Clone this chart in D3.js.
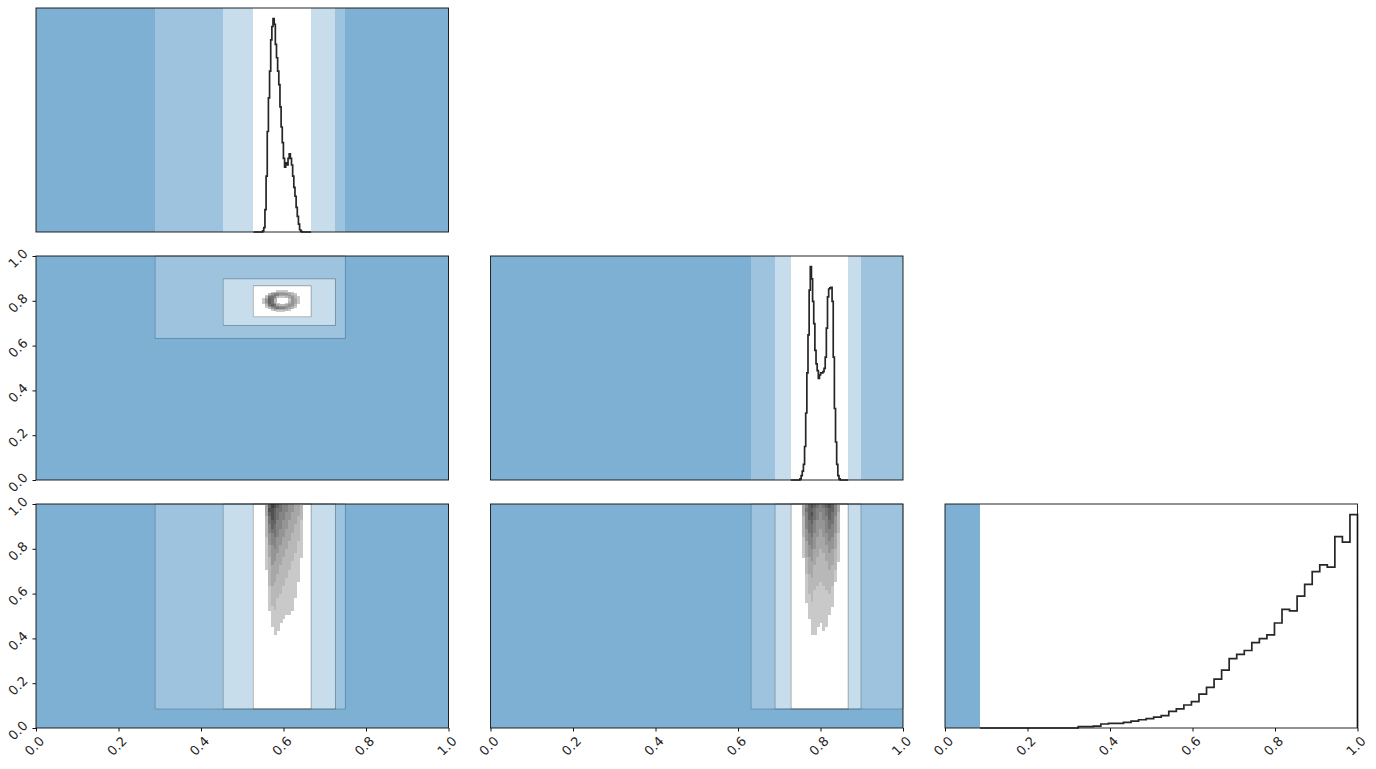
<!DOCTYPE html>
<html>
<head>
<meta charset="utf-8">
<script src="https://cdn.jsdelivr.net/npm/d3@7"></script>
<style>
  body { margin: 0; background: #fff; }
  text { font-family: "DejaVu Sans", sans-serif; }
</style>
</head>
<body>
<div id="corner"></div>
<script>
// nested bounds per parameter, one [lo, hi] per pass (widest first)
var bounds0 = [[0.289, 0.750], [0.454, 0.726], [0.527, 0.667]];
var bounds1 = [[0.632, 1.0], [0.690, 0.898], [0.729, 0.867]];
var bounds2 = [[0.085, 1.0], [0.085, 1.0], [0.085, 1.0]];

var tickValues = [0, 0.2, 0.4, 0.6, 0.8, 1.0];

// 1D histograms, 50 bins over the given range
var hist0Range = [0.527, 0.667];
var hist0 = [0, 0, 0, 0, 0, 0, 0, 0, 0.005, 0.02, 0.1, 0.25, 0.45, 0.6, 0.72, 0.86, 0.92, 0.955, 0.93, 0.84,
             0.78, 0.72, 0.66, 0.56, 0.47, 0.4, 0.33, 0.29, 0.31, 0.3, 0.33, 0.35, 0.33, 0.3, 0.25, 0.2, 0.16, 0.11, 0.07, 0.035,
             0.01, 0.003, 0, 0, 0, 0, 0, 0, 0, 0];

var hist1Range = [0.728, 0.867];
var hist1 = [0, 0, 0, 0, 0, 0, 0, 0, 0.005, 0.02, 0.04, 0.07, 0.15, 0.3, 0.48, 0.65, 0.85, 0.955, 0.9, 0.8,
             0.7, 0.58, 0.52, 0.49, 0.455, 0.47, 0.48, 0.48, 0.485, 0.5, 0.55, 0.68, 0.82, 0.855, 0.86, 0.862, 0.8, 0.55, 0.32, 0.17,
             0.07, 0.02, 0.005, 0, 0, 0, 0, 0, 0, 0];

var hist2Range = [0.085, 1.0];
var hist2 = [0, 0, 0, 0, 0, 0, 0, 0, 0, 0, 0, 0, 0, 0.006, 0.006, 0.008, 0.018, 0.021, 0.021, 0.025,
             0.031, 0.037, 0.042, 0.049, 0.055, 0.074, 0.086, 0.103, 0.118, 0.152, 0.182, 0.219, 0.259, 0.311, 0.330, 0.347, 0.382, 0.400, 0.417, 0.470,
             0.531, 0.524, 0.590, 0.643, 0.700, 0.730, 0.720, 0.857, 0.832, 0.955];

// 2D histograms: each string is one row (top row = highest y), digit = density level
var grid10X = [0.548, 0.646], grid10Y = [0.750, 0.848];
var grid10 = [
  "00000111100000",
  "00012333221000",
  "00245544432100",
  "01456533343200",
  "02665211234210",
  "13763000024310",
  "14762000014310",
  "14762000024310",
  "13764100134310",
  "02676322344200",
  "01466544443100",
  "00245655432000",
  "00013333210000",
  "00000111000000"
];

var grid20X = [0.548, 0.653], grid20Y = [0.415, 1.0];
var grid20 = [
  "037987655443320",
  "038876655443320",
  "037876554433320",
  "026876554433220",
  "026775544333210",
  "025765544332210",
  "025665443332210",
  "024565443322210",
  "014554433322210",
  "014554433222110",
  "013454333222110",
  "013444332222110",
  "013443332221110",
  "012443322221100",
  "012433322211100",
  "012333222211100",
  "002333222111100",
  "002332222111100",
  "002332221111100",
  "002322221111000",
  "001222211111000",
  "001222211111000",
  "001222111111000",
  "001221111110000",
  "001221111110000",
  "001121111110000",
  "000111111100000",
  "000111110000000",
  "000111100000000",
  "000111000000000",
  "000011000000000",
  "000010000000000"
];

var grid21X = [0.748, 0.853], grid21Y = [0.415, 1.0];
var grid21 = [
  "035787656787530",
  "036776555677530",
  "035786545676520",
  "025776545576420",
  "025675444566420",
  "025665444565420",
  "024665434555420",
  "024564434455310",
  "014554333454310",
  "013554333444310",
  "013454333344310",
  "013443323343210",
  "013443322333210",
  "002343222333210",
  "002333222233200",
  "002332222232200",
  "002332222222100",
  "001232222222100",
  "001222222222100",
  "001222212222000",
  "001222111221000",
  "001221111121000",
  "001121111111000",
  "001121111111000",
  "000111111111000",
  "000111111110000",
  "000111111110000",
  "000111111100000",
  "000011111100000",
  "000011101100000",
  "000011001000000",
  "000011000000000"
];

var bounds = [bounds0, bounds1, bounds2];
var hists = [[hist0Range, hist0], [hist1Range, hist1], [hist2Range, hist2]];

// layout
var W = 1376, H = 769;
var colX = [36, 490.5, 945], rowY = [8, 256, 504];
var pw = 412.5, ph = 224;
var shade = "#1f77b4", shadeAlpha = 0.25;
var labelSize = "13px";

var gray = d3.scaleLinear().domain([1, 9]).range(["#c9c9c9", "#3f3f3f"]);

var svg = d3.select("#corner").append("svg")
    .attr("width", W)
    .attr("height", H)
    .style("display", "block");

function panel(row, col) {
    var g = svg.append("g")
        .attr("transform", "translate(" + colX[col] + "," + rowY[row] + ")");
    var x = d3.scaleLinear().domain([0, 1]).range([0, pw]);
    var y = d3.scaleLinear().domain([0, 1]).range([ph, 0]);
    return {g: g, x: x, y: y};
}

function rectPath(x, y, x0, x1, y0, y1) {
    return "M" + x(x0) + "," + y(y0) + "H" + x(x1) + "V" + y(y1) + "H" + x(x0) + "Z";
}

function drawGrid(p, grid, gx, gy) {
    var nr = grid.length, nc = grid[0].length;
    var dx = (gx[1] - gx[0]) / nc, dy = (gy[1] - gy[0]) / nr;
    var cells = [];
    grid.forEach(function(row, r) {
        row.split("").map(Number).forEach(function(v, c) {
            if (v > 0) cells.push({c: c, r: r, v: v});
        });
    });
    p.g.append("g").selectAll("rect")
        .data(cells)
        .enter().append("rect")
        .attr("x", d => p.x(gx[0] + d.c * dx))
        .attr("y", d => p.y(gy[1] - d.r * dy))
        .attr("width", d => p.x(gx[0] + (d.c + 1) * dx) - p.x(gx[0] + d.c * dx) + 0.3)
        .attr("height", d => p.y(gy[1] - (d.r + 1) * dy) - p.y(gy[1] - d.r * dy) + 0.3)
        .attr("fill", d => gray(d.v))
        .attr("shape-rendering", "crispEdges");
}

function frame(p) {
    p.g.append("rect")
        .attr("width", pw)
        .attr("height", ph)
        .attr("fill", "none")
        .attr("stroke", "#111")
        .attr("stroke-width", 0.9);
}

function xAxis(p) {
    var ax = p.g.append("g")
        .attr("transform", "translate(0," + ph + ")")
        .call(d3.axisBottom(p.x).tickValues(tickValues).tickSize(3.5).tickFormat(d3.format(".1f")));
    ax.select(".domain").remove();
    ax.selectAll("line").attr("stroke", "#111");
    ax.selectAll("text")
        .attr("y", null).attr("dy", null)
        .attr("transform", "translate(-2,18) rotate(-45)")
        .attr("text-anchor", "middle")
        .attr("dominant-baseline", "central")
        .attr("font-size", null)
        .style("font-size", labelSize)
        .attr("fill", "#222");
}

function yAxis(p) {
    var ax = p.g.append("g")
        .call(d3.axisLeft(p.y).tickValues(tickValues).tickSize(3.5).tickFormat(d3.format(".1f")));
    ax.select(".domain").remove();
    ax.selectAll("line").attr("stroke", "#111");
    ax.selectAll("text")
        .attr("x", null).attr("dy", null)
        .attr("transform", "translate(-18,2) rotate(-45)")
        .attr("text-anchor", "middle")
        .attr("dominant-baseline", "central")
        .style("font-size", labelSize)
        .attr("fill", "#222");
}

// diagonal: shaded outside each bound + step histogram
[0, 1, 2].forEach(function(i) {
    var p = panel(i, i);
    bounds[i].forEach(function(b) {
        [[0, b[0]], [b[1], 1]].forEach(function(s) {
            if (s[1] - s[0] <= 0) return;
            p.g.append("rect")
                .attr("x", p.x(s[0]))
                .attr("y", 0)
                .attr("width", p.x(s[1]) - p.x(s[0]))
                .attr("height", ph)
                .attr("fill", shade)
                .attr("fill-opacity", shadeAlpha)
                .attr("shape-rendering", "crispEdges");
        });
    });

    var range = hists[i][0], vals = hists[i][1];
    var bw = (range[1] - range[0]) / vals.length;
    var hy = d3.scaleLinear().domain([0, d3.max(vals) * 1.05]).range([ph, 0]);
    var pts = [[range[0], 0]];
    vals.forEach(function(v, k) {
        pts.push([range[0] + k * bw, v]);
        pts.push([range[0] + (k + 1) * bw, v]);
    });
    pts.push([range[1], 0]);
    p.g.append("path")
        .datum(pts)
        .attr("d", d3.line().x(d => p.x(d[0])).y(d => hy(d[1])))
        .attr("fill", "none")
        .attr("stroke", "#262626")
        .attr("stroke-width", 1.7)
        .attr("stroke-linejoin", "miter");

    frame(p);
    if (i == 2) xAxis(p);
});

// off-diagonal: shaded outside each bound box + 2D histogram
var pairs = [[1, 0, grid10, grid10X, grid10Y], [2, 0, grid20, grid20X, grid20Y], [2, 1, grid21, grid21X, grid21Y]];
pairs.forEach(function(pr) {
    var row = pr[0], col = pr[1];
    var p = panel(row, col);
    for (var k = 0; k < 3; k++) {
        var bx = bounds[col][k], by = bounds[row][k];
        p.g.append("path")
            .attr("d", rectPath(p.x, p.y, 0, 1, 0, 1) + rectPath(p.x, p.y, bx[0], bx[1], by[0], by[1]))
            .attr("fill", shade)
            .attr("fill-opacity", shadeAlpha)
            .attr("fill-rule", "evenodd")
            .attr("shape-rendering", "crispEdges");
        p.g.append("path")
            .attr("d", rectPath(p.x, p.y, bx[0], bx[1], by[0], by[1]))
            .attr("fill", "none")
            .attr("stroke", "#000")
            .attr("stroke-opacity", 0.28)
            .attr("stroke-width", 1);
    }
    drawGrid(p, pr[2], pr[3], pr[4]);
    frame(p);
    if (col == 0) yAxis(p);
    if (row == 2) xAxis(p);
});
</script>
</body>
</html>
